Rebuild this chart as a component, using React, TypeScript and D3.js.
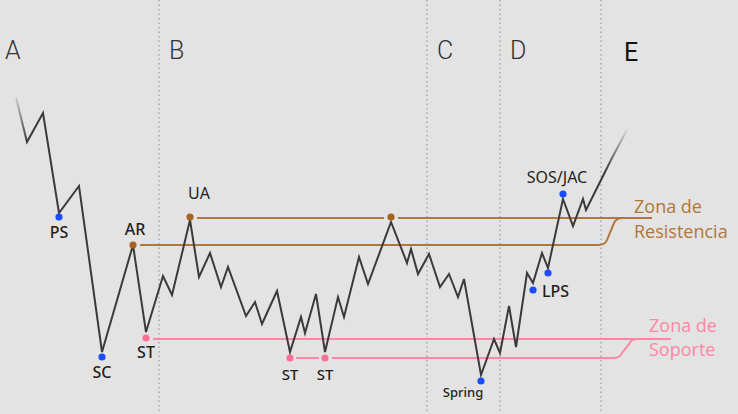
import React from "react";
import * as d3 from "d3";

const W = 738;
const H = 414;

// price path (time, price)
const pathT = [16, 27, 43, 59, 79, 102, 133, 146, 163, 172, 190, 199, 210, 221, 228, 246, 255, 262, 277, 290, 301, 305, 316, 325, 338, 344, 359, 368, 391, 407, 411, 418, 429, 440, 449, 458, 464, 481, 494, 500, 509, 516, 527, 533, 542, 548, 563, 573, 583, 586, 612, 627];
const pathP = [316, 272, 301, 201, 228, 62, 169, 82, 138, 119, 194, 137, 161, 127, 147, 98, 112, 90, 123, 62, 97, 81, 120, 62, 117, 97, 157, 130, 192, 151, 165, 140, 160, 127, 140, 117, 135, 39, 75, 61, 108, 67, 141, 131, 161, 146, 215, 188, 215, 204, 256, 284];

// events
const eventNames = ["PS", "SC", "AR", "ST", "UA", "ST", "ST", "", "Spring", "LPS", "", "SOS/JAC"];
const eventT = [59, 102, 133, 146, 190, 290, 325, 391, 481, 533, 548, 563];
const eventP = [197, 57, 169, 76, 197, 56, 56, 197, 33, 124, 141, 220];
const eventKind = ["blue", "blue", "res", "sup", "res", "sup", "sup", "res", "blue", "blue", "blue", "blue"];

// phases
const phaseNames = ["A", "B", "C", "D", "E"];
const phaseStart = [0, 159, 427, 500, 601];

// zones
const resUpper = 196;
const resLower = 169;
const supUpper = 75;
const supLower = 56;

const colors: Record<string, string> = {
  blue: "#1a4dff",
  res: "#a8641f",
  sup: "#ff6f93",
};

const labelLayout: { dx: number; y: number; anchor: string; size: number; weight: number }[] = [
  { dx: 0, y: 238, anchor: "middle", size: 16, weight: 500 },
  { dx: 0, y: 378, anchor: "middle", size: 16, weight: 500 },
  { dx: 2, y: 235, anchor: "middle", size: 16, weight: 500 },
  { dx: 0, y: 358, anchor: "middle", size: 16, weight: 500 },
  { dx: 9, y: 199, anchor: "middle", size: 16, weight: 400 },
  { dx: 0, y: 380, anchor: "middle", size: 15, weight: 500 },
  { dx: 0, y: 380, anchor: "middle", size: 15, weight: 500 },
  { dx: 0, y: 0, anchor: "middle", size: 14, weight: 400 },
  { dx: -18, y: 397, anchor: "middle", size: 13, weight: 500 },
  { dx: 9, y: 297, anchor: "start", size: 16, weight: 500 },
  { dx: 0, y: 0, anchor: "middle", size: 14, weight: 400 },
  { dx: -6, y: 183, anchor: "middle", size: 16, weight: 400 },
];

export default function App() {
  const x = d3.scaleLinear().domain([0, W]).range([0, W]);
  const y = d3.scaleLinear().domain([0, H]).range([H, 0]);

  const pts: [number, number][] = pathT.map((t, i) => [t, pathP[i]]);
  const line = d3
    .line<[number, number]>()
    .x((d) => x(d[0]))
    .y((d) => y(d[1]));

  const brace = (x0: number, xb: number, lowP: number, highP: number) => {
    const yl = y(lowP);
    const yh = y(highP);
    return `M${x(x0)},${yl} H${xb - 7} Q${xb},${yl} ${xb + 2},${yl - 5} L${xb + 9},${yh + 5} Q${xb + 11},${yh} ${xb + 18},${yh}`;
  };

  const resColor = "#b0773a";
  const supColor = "#ff86a6";

  return (
    <svg
      width={W}
      height={H}
      style={{ position: "fixed", left: 0, top: 0, background: "#e3e3e3" }}
    >
      <defs>
        <linearGradient id="fade" gradientUnits="userSpaceOnUse" x1={0} x2={W} y1={0} y2={0}>
          <stop offset={14 / W} stopColor="#3a3a3a" stopOpacity={0} />
          <stop offset={27 / W} stopColor="#3a3a3a" stopOpacity={1} />
          <stop offset={605 / W} stopColor="#3a3a3a" stopOpacity={1} />
          <stop offset={629 / W} stopColor="#3a3a3a" stopOpacity={0} />
        </linearGradient>
      </defs>
      <rect x={0} y={0} width={W} height={H} fill="#e3e3e3" />

      {/* phase separators */}
      {phaseStart.slice(1).map((p, i) => (
        <line
          key={"v" + i}
          x1={x(p)}
          x2={x(p)}
          y1={0}
          y2={H}
          stroke="#a9a9a9"
          strokeWidth={1.5}
          strokeDasharray="1.5,3"
        />
      ))}
      {phaseNames.map((n, i) => (
        <text
          key={"ph" + i}
          x={x(phaseStart[i]) + (i === 0 ? 5 : i === 4 ? 23 : 10)}
          y={i === 4 ? 61 : 59}
          fontFamily="Roboto"
          fontWeight={i === 4 ? 400 : 300}
          fontSize={25}
          fill={i === 4 ? "#111" : "#333"}
        >
          {n}
        </text>
      ))}

      {/* resistance zone */}
      <line x1={x(197)} x2={x(384)} y1={y(resUpper)} y2={y(resUpper)} stroke={resColor} strokeWidth={2} />
      <line x1={x(398)} x2={x(652)} y1={y(resUpper)} y2={y(resUpper)} stroke={resColor} strokeWidth={2} />
      <path d={brace(140, 605, resLower, resUpper)} fill="none" stroke={resColor} strokeWidth={2} />

      {/* support zone */}
      <line x1={x(153)} x2={x(671)} y1={y(supUpper)} y2={y(supUpper)} stroke={supColor} strokeWidth={2} />
      <line x1={x(296)} x2={x(319)} y1={y(supLower)} y2={y(supLower)} stroke={supColor} strokeWidth={2} />
      <path d={brace(332, 620, supLower, supUpper)} fill="none" stroke={supColor} strokeWidth={2} />

      {/* price */}
      <path d={line(pts) || ""} fill="none" stroke="url(#fade)" strokeWidth={2} strokeLinejoin="miter" />

      {/* events */}
      {eventT.map((t, i) => (
        <circle key={"d" + i} cx={x(t)} cy={y(eventP[i])} r={3.6} fill={colors[eventKind[i]]} />
      ))}
      {eventNames.map((n, i) =>
        n ? (
          <text
            key={"l" + i}
            x={x(eventT[i]) + labelLayout[i].dx}
            y={labelLayout[i].y}
            textAnchor={labelLayout[i].anchor}
            fontFamily="'Noto Sans'"
            fontSize={labelLayout[i].size}
            fontWeight={labelLayout[i].weight}
            fill="#1f1f1f"
          >
            {n}
          </text>
        ) : null
      )}

      {/* zone labels */}
      <text x={634} y={213} fontFamily="'Open Sans'" fontSize={18} fill={resColor}>Zona de</text>
      <text x={634} y={238} fontFamily="'Open Sans'" fontSize={18} fill={resColor}>Resistencia</text>
      <text x={649} y={332} fontFamily="'Open Sans'" fontSize={18} fill={supColor}>Zona de</text>
      <text x={649} y={356} fontFamily="'Open Sans'" fontSize={18} fill={supColor}>Soporte</text>
    </svg>
  );
}
